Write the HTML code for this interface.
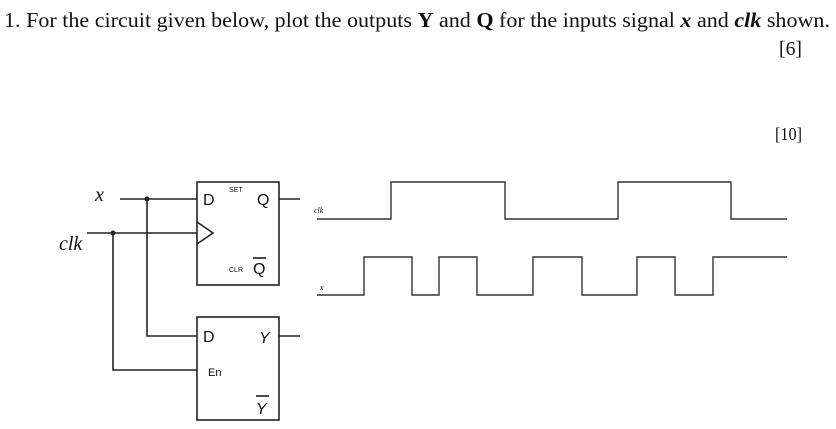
<!DOCTYPE html>
<html><head><meta charset="utf-8"><style>
html,body{margin:0;padding:0;background:#fff;}
svg{display:block;}
</style></head><body>
<svg width="836" height="429" viewBox="0 0 836 429" xmlns="http://www.w3.org/2000/svg">
<g font-family="Liberation Serif, serif" fill="#111">
<text x="4" y="27" font-size="21" textLength="826" lengthAdjust="spacingAndGlyphs">1.  For the circuit given below, plot the outputs <tspan font-weight="bold">Y</tspan> and <tspan font-weight="bold">Q</tspan> for the inputs signal <tspan font-style="italic" font-weight="bold">x</tspan> and <tspan font-style="italic" font-weight="bold">clk</tspan> shown.</text>
<text x="779" y="55" font-size="20" textLength="23" lengthAdjust="spacingAndGlyphs">[6]</text>
<text x="775" y="140" font-size="18" textLength="27" lengthAdjust="spacingAndGlyphs">[10]</text>
<text x="95" y="201" font-size="20" font-style="italic">x</text>
<text x="59" y="250" font-size="20" font-style="italic">clk</text>
<text x="314" y="213" font-size="8" font-style="italic">clk</text>
<text x="320" y="290" font-size="8" font-style="italic">x</text>
</g>
<g stroke="#222" stroke-width="1.6" fill="none">
<rect x="197" y="182" width="82" height="103"/>
<rect x="197" y="317" width="82" height="103"/>
<line x1="120" y1="199" x2="197" y2="199"/>
<line x1="87" y1="233" x2="197" y2="233"/>
<polyline points="197,222 213,233 197,244"/>
<line x1="279" y1="199" x2="300" y2="199"/>
<line x1="279" y1="336" x2="300" y2="336"/>
<polyline points="147,199 147,336 197,336"/>
<polyline points="113,233 113,370 197,370"/>
<polyline stroke="#333" stroke-width="1.4" points="317,219 391,219 391,182 505,182 505,219 618,219 618,182 731,182 731,219 787,219"/>
<polyline stroke="#333" stroke-width="1.4" points="317,295 364,295 364,257 412,257 412,295 439,295 439,257 477,257 477,295 533,295 533,257 582,257 582,295 637,295 637,257 675,257 675,295 713,295 713,257 787,257"/>
</g>
<circle cx="147" cy="199" r="2.5" fill="#222"/>
<circle cx="113" cy="233" r="2.5" fill="#222"/>
<g font-family="Liberation Sans, sans-serif" fill="#111">
<text x="203" y="205" font-size="16">D</text>
<text x="229" y="192" font-size="7">SET</text>
<text x="257" y="205" font-size="16">Q</text>
<text x="229" y="272" font-size="7">CLR</text>
<text x="253" y="274" font-size="16">Q</text>
<line x1="253" y1="258" x2="266" y2="258" stroke="#111" stroke-width="1.5"/>
<text x="203" y="342" font-size="16">D</text>
<text x="259" y="343" font-size="16" font-style="italic">Y</text>
<text x="208" y="376" font-size="11">En</text>
<text x="256" y="414" font-size="16" font-style="italic">Y</text>
<line x1="256" y1="396" x2="269" y2="396" stroke="#111" stroke-width="1.5"/>
</g>
</svg>
</body></html>
